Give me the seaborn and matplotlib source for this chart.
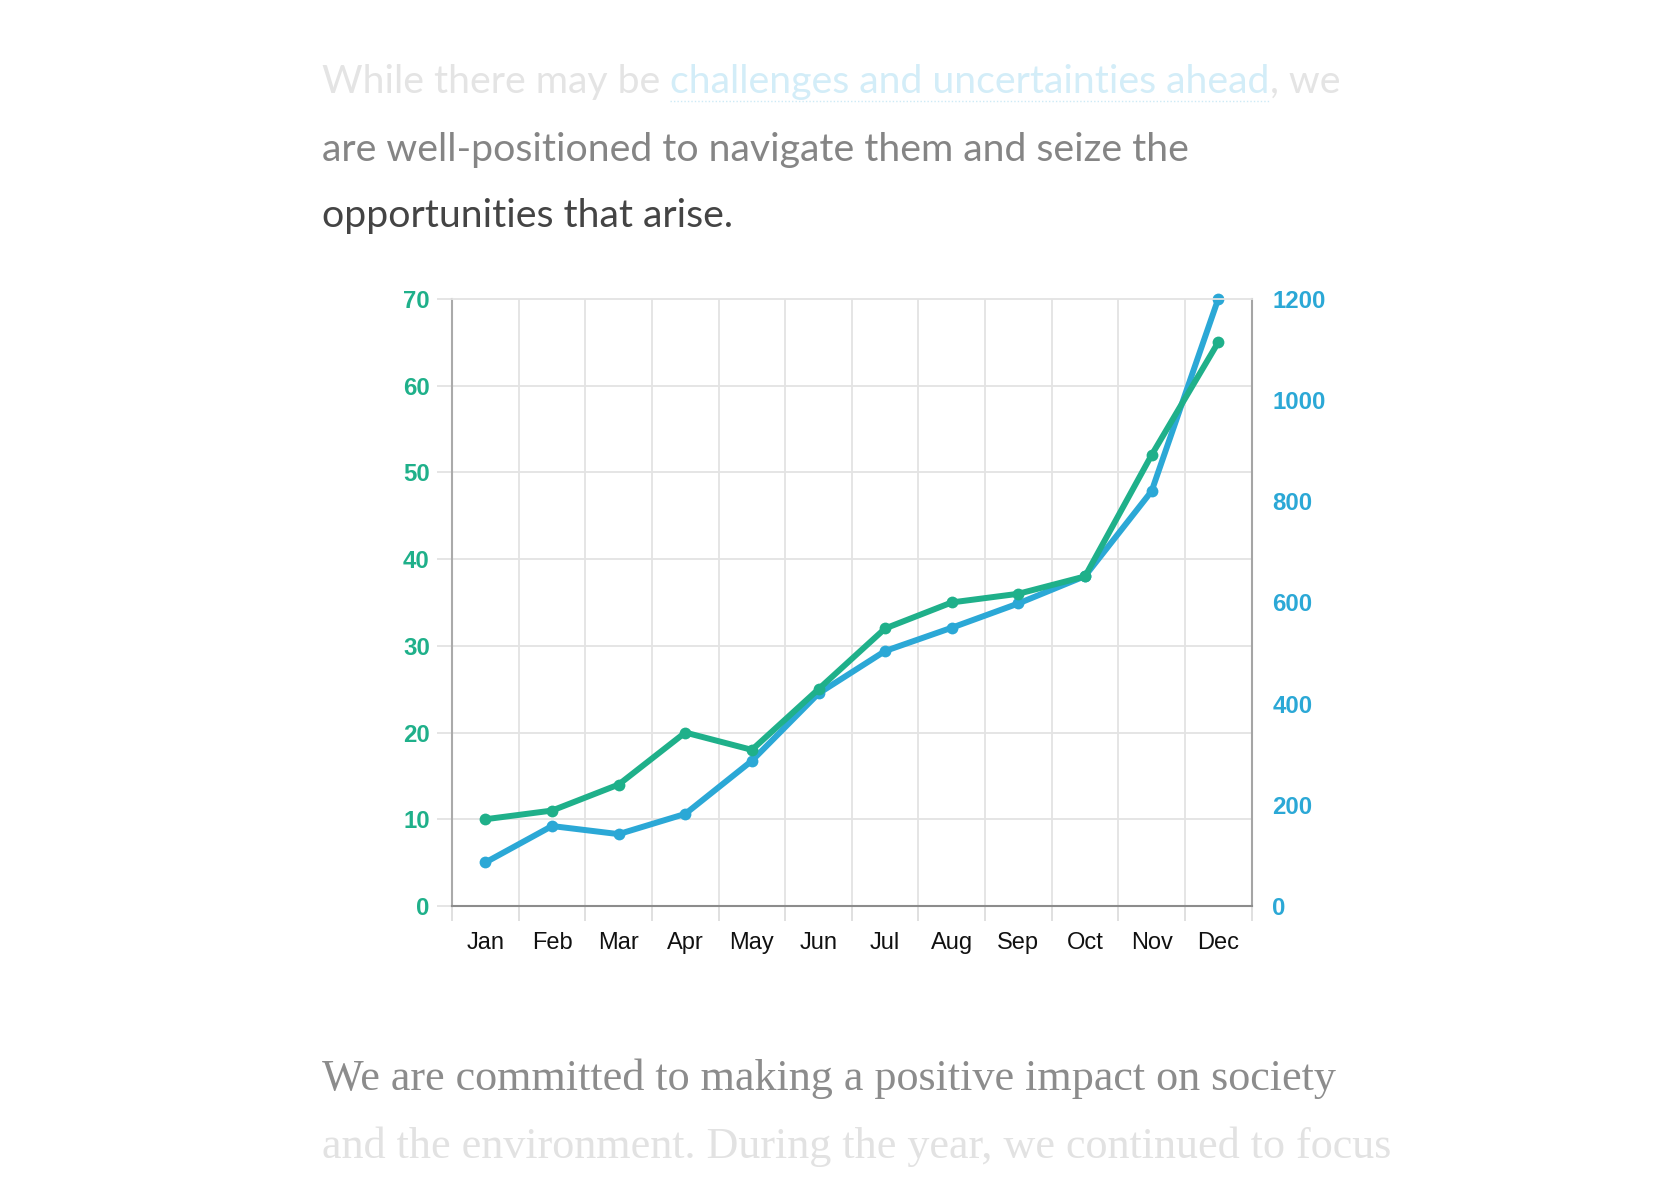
#!/usr/bin/env python3
import numpy as np
import pandas as pd
import matplotlib
matplotlib.use("Agg")
import matplotlib.pyplot as plt
import seaborn as sns

# chart data
months = ["Jan", "Feb", "Mar", "Apr", "May", "Jun",
          "Jul", "Aug", "Sep", "Oct", "Nov", "Dec"]
green_vals = [10, 11, 14, 20, 18, 25, 32, 35, 36, 38, 52, 65]
blue_vals = [86, 158, 142, 182, 287, 420, 504, 550, 598, 652, 820, 1200]
left_ticks = [0, 10, 20, 30, 40, 50, 60, 70]
right_ticks = [0, 200, 400, 600, 800, 1000, 1200]

GREEN = "#1fb08a"
BLUE = "#2ba8d6"
GRID = "#e3e3e3"

sns.set_theme(style="white")
plt.rcParams["font.family"] = ["Liberation Sans", "DejaVu Sans"]

df = pd.DataFrame({"month": months, "green": green_vals, "blue": blue_vals})
df["pos"] = np.arange(len(df))

fig = plt.figure(figsize=(16.75, 11.99), dpi=100)
ax = fig.add_axes([0.2699, 0.2444, 0.4773, 0.5063])
ax2 = ax.twinx()
# green sits on top of the blue line
ax.set_zorder(ax2.get_zorder() + 1)
ax.patch.set_visible(False)

sns.lineplot(data=df, x="pos", y="blue", ax=ax2, color=BLUE, lw=4.3,
             marker="o", markersize=8.5, markeredgewidth=0, sort=False,
             clip_on=False)
sns.lineplot(data=df, x="pos", y="green", ax=ax, color=GREEN, lw=4.3,
             marker="o", markersize=8.5, markeredgewidth=0, sort=False,
             clip_on=False)

n = len(months)
ax.set_xlim(-0.5, n - 0.5)
ax.set_ylim(left_ticks[0], left_ticks[-1])
ax2.set_ylim(right_ticks[0], right_ticks[-1])

# grid lives on the lower axes so it stays under both lines
bounds = np.arange(n + 1) - 0.5
ax2.xaxis.set_visible(True)
ax2.set_xticks(bounds, minor=True)
ax2.set_yticks(np.array(left_ticks) * right_ticks[-1] / left_ticks[-1], minor=True)
ax2.grid(which="minor", color=GRID, lw=1.3)
ax2.grid(which="major", visible=False)
ax.grid(False)
ax2.tick_params(axis="x", which="both", length=0, labelbottom=False,
                labeltop=False)

ax.set_xticks(df["pos"])
ax.set_xticklabels(months)
ax.set_xticks(bounds, minor=True)
ax.set_yticks(left_ticks)
ax2.set_yticks(right_ticks)

ax.tick_params(axis="x", which="major", length=0, pad=19, labelsize=17,
               labelcolor="#111111")
ax.tick_params(axis="x", which="minor", length=11, width=1.3, color="#dddddd",
               bottom=True)
ax.tick_params(axis="y", length=11, width=1.3, color=GRID, pad=5,
               labelsize=17.3, labelcolor=GREEN, left=True)
ax2.tick_params(axis="y", which="both", length=0, pad=15, labelsize=17.3,
                labelcolor=BLUE)
for lab in ax.get_yticklabels() + ax2.get_yticklabels():
    lab.set_fontweight("bold")

ax.set_xlabel("")
ax.set_ylabel("")
ax2.set_xlabel("")
ax2.set_ylabel("")

ax.spines["top"].set_color(GRID)
ax.spines["top"].set_linewidth(1.3)
ax2.spines["top"].set_visible(False)
ax.spines["right"].set_visible(False)
ax2.spines["left"].set_visible(False)
ax2.spines["bottom"].set_visible(False)
ax.spines["left"].set_color("#aaaaaa")
ax.spines["left"].set_linewidth(1.5)
ax.spines["bottom"].set_color("#8c8c8c")
ax.spines["bottom"].set_linewidth(1.5)
ax2.spines["right"].set_color("#a5a5a5")
ax2.spines["right"].set_linewidth(1.5)

# surrounding article text
def px(x, y):
    return x / 1675, 1 - y / 1199

fig.canvas.draw()
renderer = fig.canvas.get_renderer()
x0 = 322
sans = ["Lato", "DejaVu Sans"]
serif = ["Liberation Serif", "DejaVu Serif"]
pieces = [("While there may be ", "#e4e4e4"),
          ("challenges and uncertainties ahead", "#d3edf8"),
          (", we", "#e4e4e4")]
cur = x0
for txt, col in pieces:
    t = fig.text(*px(cur, 93), txt, color=col, fontsize=28.3,
                 family=sans, va="baseline", ha="left")
    w = t.get_window_extent(renderer).width
    if txt.startswith("challenges"):
        fig.add_artist(plt.Line2D([cur / 1675, (cur + w) / 1675],
                                  [1 - 101 / 1199] * 2, color="#cdeaf6",
                                  lw=1, ls=(0, (1, 1.5))))
    cur += w

fig.text(*px(x0, 161), "are well-positioned to navigate them and seize the",
         color="#858585", fontsize=28.3, family=sans, va="baseline")
fig.text(*px(x0, 227), "opportunities that arise.", color="#444444",
         fontsize=28.3, family=sans, va="baseline")

fig.text(*px(x0, 1090), "We are committed to making a positive impact on society",
         color="#8c8c8c", fontsize=31.8, family=serif, va="baseline")
fig.text(*px(x0, 1158), "and the environment. During the year, we continued to focus",
         color="#e2e2e2", fontsize=31.8, family=serif, va="baseline")

fig.savefig("out.png", dpi=100, facecolor="white")
